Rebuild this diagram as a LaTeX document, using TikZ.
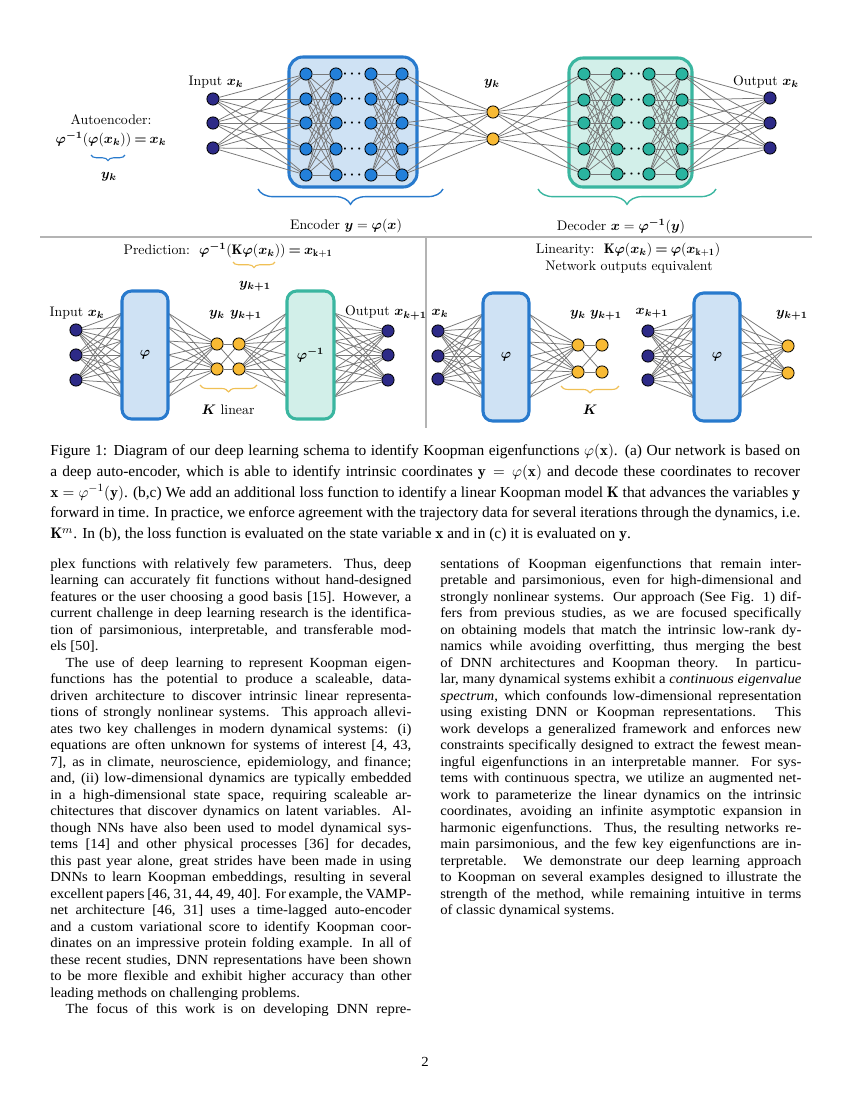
\documentclass[tikz,border=0pt]{standalone}
\usepackage{amsmath, amssymb, bm}
\usepackage{fontspec}
\newfontfamily\bodyfont[FakeStretch=1.06]{Liberation Serif}
\newfontfamily\capfont[FakeStretch=1.01]{Liberation Serif}
\usetikzlibrary{positioning, fit, decorations.pathreplacing}

\definecolor{inkblue}{RGB}{45,42,135}
\definecolor{encnode}{RGB}{35,128,218}
\definecolor{encline}{RGB}{40,122,205}
\definecolor{encfill}{RGB}{207,226,244}
\definecolor{decnode}{RGB}{42,180,160}
\definecolor{decline}{RGB}{58,182,160}
\definecolor{decfill}{RGB}{210,239,233}
\definecolor{latnode}{RGB}{248,186,52}
\definecolor{latbrace}{RGB}{240,192,85}
\definecolor{linkgray}{RGB}{120,120,120}
\definecolor{rulegray}{RGB}{180,180,180}

% one justified line of the page text
\newcommand{\bodyline}[1]{\makebox[260bp][s]{#1}}
\newcommand{\capline}[1]{\makebox[540bp][s]{#1}}

\begin{document}
\begin{tikzpicture}[
    x=0.72bp, y=-0.72bp,
    neuron/.style={circle, draw=black, line width=0.6bp, minimum size=8.8bp, inner sep=0pt},
    inneuron/.style={neuron, fill=inkblue},
    encneuron/.style={neuron, fill=encnode},
    decneuron/.style={neuron, fill=decnode},
    latneuron/.style={neuron, fill=latnode},
    link/.style={draw=linkgray, line width=0.55bp},
    encbox/.style={draw=encline, fill=encfill, line width=2.2bp, rounded corners=7bp, inner sep=0pt},
    decbox/.style={draw=decline, fill=decfill, line width=2.2bp, rounded corners=7bp, inner sep=0pt},
    curly/.style={decorate, decoration={brace, mirror, amplitude=#1}, line width=0.8bp},
    curly/.default=5bp,
    textcol/.style={anchor=north west, inner sep=0pt, align=left}
  ]

  \fill[white] (0,0) rectangle (850,1100);
  \useasboundingbox (0,0) rectangle (850,1100);

  % ==================== (a) AUTO-ENCODER ====================

  \node[encbox, rounded corners=10bp, fit={(289,57) (417,187)}] (encoder) {};
  \node[decbox, rounded corners=10bp, fit={(569,58) (692,187)}] (decoder) {};

  \foreach \j/\yy in {1/99, 2/123, 3/148}
    \node[inneuron] (ai\j) at (213,\yy) {};
  \foreach \c/\xx in {1/306, 2/336, 3/371, 4/402}
    \foreach \j/\yy in {1/74, 2/99, 3/123, 4/149, 5/175}
      \node[encneuron] (ae\c-\j) at (\xx,\yy) {};
  \foreach \j/\yy in {1/74, 2/99, 3/123, 4/149, 5/175}
    \node (aedots\j) at (353.5,\yy) {$\bm{\cdots}$};

  \foreach \j/\yy in {1/112, 2/139}
    \node[latneuron] (ay\j) at (493,\yy) {};

  \foreach \c/\xx in {1/584, 2/617, 3/649, 4/682}
    \foreach \j/\yy in {1/74, 2/100, 3/123, 4/149, 5/174}
      \node[decneuron] (ad\c-\j) at (\xx,\yy) {};
  \foreach \j/\yy in {1/74, 2/100, 3/123, 4/149, 5/174}
    \node (addots\j) at (633,\yy) {$\bm{\cdots}$};

  \foreach \j/\yy in {1/98, 2/123, 3/148}
    \node[inneuron] (ao\j) at (770,\yy) {};

  % fully connected layers
  \foreach \i in {1,2,3} \foreach \j in {1,...,5} \draw[link] (ai\i) -- (ae1-\j);
  \foreach \i in {1,...,5} \foreach \j in {1,...,5} \draw[link] (ae1-\i) -- (ae2-\j);
  \foreach \i in {1,...,5} \foreach \j in {1,...,5} \draw[link] (ae3-\i) -- (ae4-\j);
  \foreach \i in {1,...,5} \foreach \j in {1,2} \draw[link] (ae4-\i) -- (ay\j);
  \foreach \i in {1,2} \foreach \j in {1,...,5} \draw[link] (ay\i) -- (ad1-\j);
  \foreach \i in {1,...,5} \foreach \j in {1,...,5} \draw[link] (ad1-\i) -- (ad2-\j);
  \foreach \i in {1,...,5} \foreach \j in {1,...,5} \draw[link] (ad3-\i) -- (ad4-\j);
  \foreach \i in {1,...,5} \foreach \j in {1,2,3} \draw[link] (ad4-\i) -- (ao\j);

  \node (ainlbl) at (216,82) {Input $\bm{x_k}$};
  \node (aylbl) at (492,84) {$\bm{y_k}$};
  \node (aoutlbl) at (766,82) {Output $\bm{x_k}$};

  \node[align=center, inner sep=0pt] (autolbl) at (111,131) {Autoencoder:\\[2pt]
    $\bm{\varphi}^{\bm{-1}}(\bm{\varphi}(\bm{x_k})) \mathbin{\bm{=}} \bm{x_k}$};
  \coordinate (autobl) at (91,155);
  \coordinate (autobr) at (125,155);
  \draw[curly=4bp, encline] (autobl) -- (autobr);
  \node (autoy) at (109,177) {$\bm{y_k}$};

  \coordinate (encbl) at (258,189);
  \coordinate (encbr) at (443,189);
  \draw[curly=11bp, encline, line width=1bp] (encbl) -- (encbr);
  \coordinate (decbl) at (538,189);
  \coordinate (decbr) at (716,189);
  \draw[curly=11bp, decline, line width=1bp] (decbl) -- (decbr);

  \node (enclbl) at (346,226) {Encoder $\bm{y} = \bm{\varphi}(\bm{x})$};
  \node (declbl) at (621,226) {Decoder $\bm{x} = \bm{\varphi}^{\bm{-1}}(\bm{y})$};

  % panel rules
  \coordinate (ruleL) at (40,237);
  \coordinate (ruleR) at (812,237);
  \coordinate (ruleM) at (426,237);
  \coordinate (ruleB) at (426,428);
  \draw[rulegray, line width=0.8bp] (ruleL) -- (ruleR);
  \draw[rulegray, line width=0.8bp] (ruleM) -- (ruleB);

  % ==================== (b) PREDICTION ====================

  \node (predeq) at (228,250) {Prediction:\ \ $\bm{\varphi}^{\bm{-1}}(\mathbf{K}\bm{\varphi}(\bm{x_k})) \mathbin{\bm{=}} \bm{x}_{\mathbf{k+1}}$};
  \coordinate (predbl) at (233,262);
  \coordinate (predbr) at (275,262);
  \draw[curly=4bp, latbrace] (predbl) -- (predbr);
  \node (predy) at (255,286) {$\bm{y_{k+1}}$};

  \foreach \j/\yy in {1/330, 2/355, 3/380}
    \node[inneuron] (bi\j) at (76,\yy) {};
  \foreach \j [evaluate=\j as \yy using 299+14*\j] in {1,...,7} {
    \coordinate (bphiL\j) at (122,\yy);
    \coordinate (bphiR\j) at (168,\yy);
    \coordinate (binvL\j) at (287,\yy);
    \coordinate (binvR\j) at (334,\yy);
  }
  \foreach \j/\yy in {1/344, 2/369} {
    \node[latneuron] (byk\j) at (217,\yy) {};
    \node[latneuron] (byn\j) at (239,\yy) {};
  }
  \foreach \j/\yy in {1/331, 2/355, 3/380}
    \node[inneuron] (bo\j) at (388,\yy) {};

  \foreach \i in {1,2,3} \foreach \j in {1,...,7} \draw[link] (bi\i) -- (bphiL\j);
  \foreach \i in {1,...,7} \foreach \j in {1,2} \draw[link] (bphiR\i) -- (byk\j);
  \foreach \i in {1,2} \foreach \j in {1,2} \draw[link] (byk\i) -- (byn\j);
  \foreach \i in {1,2} \foreach \j in {1,...,7} \draw[link] (byn\i) -- (binvL\j);
  \foreach \i in {1,...,7} \foreach \j in {1,2,3} \draw[link] (binvR\i) -- (bo\j);

  \node[encbox, fit={(122,291) (168,419)}] (bphi) {};
  \node (bphilbl) at (bphi.center) {$\bm{\varphi}$};
  \node[decbox, fit={(287,291) (334,419)}] (binv) {};
  \node (binvlbl) at (binv.center) {$\bm{\varphi^{-1}}$};

  \node (binlbl) at (77,313) {Input $\bm{x_k}$};
  \node (byklbl) at (217,315) {$\bm{y_k}$};
  \node (bynlbl) at (246,315) {$\bm{y_{k+1}}$};
  \node (boutlbl) at (386,313) {Output $\bm{x_{k+1}}$};

  \coordinate (bkbl) at (200,385);
  \coordinate (bkbr) at (257,385);
  \draw[curly=5bp, latbrace] (bkbl) -- (bkbr);
  \node (bklbl) at (228,410) {$\bm{K}$ linear};

  % ==================== (c) LINEARITY ====================

  \node (lineq) at (628,250) {Linearity:\ \ $\mathbf{K}\bm{\varphi}(\bm{x_k}) \mathbin{\bm{=}} \bm{\varphi}(\bm{x}_{\mathbf{k+1}})$};
  \node (linsub) at (629,267) {Network outputs equivalent};

  \foreach \j/\yy in {1/331, 2/356, 3/379}
    \node[inneuron] (ci\j) at (438,\yy) {};
  \foreach \j/\yy in {1/331, 2/356, 3/380}
    \node[inneuron] (cx\j) at (648,\yy) {};
  \foreach \j [evaluate=\j as \yy using 300+14*\j] in {1,...,7} {
    \coordinate (cphiL\j) at (483,\yy);
    \coordinate (cphiR\j) at (529,\yy);
    \coordinate (cpsiL\j) at (694,\yy);
    \coordinate (cpsiR\j) at (740,\yy);
  }
  \foreach \j/\yy in {1/345, 2/372} {
    \node[latneuron] (cyk\j) at (578,\yy) {};
    \node[latneuron] (cyn\j) at (602,\yy) {};
  }
  \foreach \j/\yy in {1/346, 2/373}
    \node[latneuron] (cyo\j) at (788,\yy) {};

  \foreach \i in {1,2,3} \foreach \j in {1,...,7} \draw[link] (ci\i) -- (cphiL\j);
  \foreach \i in {1,...,7} \foreach \j in {1,2} \draw[link] (cphiR\i) -- (cyk\j);
  \foreach \i in {1,2} \foreach \j in {1,2} \draw[link] (cyk\i) -- (cyn\j);
  \foreach \i in {1,2,3} \foreach \j in {1,...,7} \draw[link] (cx\i) -- (cpsiL\j);
  \foreach \i in {1,...,7} \foreach \j in {1,2} \draw[link] (cpsiR\i) -- (cyo\j);

  \node[encbox, fit={(483,293) (529,421)}] (cphi) {};
  \node (cphilbl) at (cphi.center) {$\bm{\varphi}$};
  \node[encbox, fit={(694,293) (740,421)}] (cpsi) {};
  \node (cpsilbl) at (cpsi.center) {$\bm{\varphi}$};

  \node (cinlbl) at (440,313) {$\bm{x_k}$};
  \node (cyklbl) at (578,315) {$\bm{y_k}$};
  \node (cynlbl) at (606,315) {$\bm{y_{k+1}}$};
  \node (cxlbl) at (652,313) {$\bm{x_{k+1}}$};
  \node (cyolbl) at (792,315) {$\bm{y_{k+1}}$};

  \coordinate (ckbl) at (561,386);
  \coordinate (ckbr) at (619,386);
  \draw[curly=5bp, latbrace] (ckbl) -- (ckbr);
  \node (cklbl) at (590,410) {$\bm{K}$};

  % ==================== CAPTION AND PAGE TEXT ====================

  \node[textcol, font=\capfont\fontsize{11bp}{14.94bp}\selectfont] (caption) at (50,444) {%
    \capline{Figure 1: Diagram of our deep learning schema to identify Koopman eigenfunctions $\varphi(\mathbf{x})$. (a) Our network is based on}\\
    \capline{a deep auto-encoder, which is able to identify intrinsic coordinates $\mathbf{y} = \varphi(\mathbf{x})$ and decode these coordinates to recover}\\
    \capline{$\mathbf{x} = \varphi^{-1}(\mathbf{y})$. (b,c) We add an additional loss function to identify a linear Koopman model $\mathbf{K}$ that advances the variables $\mathbf{y}$}\\
    \capline{forward in time. In practice, we enforce agreement with the trajectory data for several iterations through the dynamics, i.e.}\\
    $\mathbf{K}^m$. In (b), the loss function is evaluated on the state variable $\mathbf{x}$ and in (c) it is evaluated on $\mathbf{y}$.
  };

  \node[textcol, font=\bodyfont\fontsize{10bp}{11.88bp}\selectfont] (leftcol) at (50,558) {%
    \bodyline{plex functions with relatively few parameters. Thus, deep}\\
    \bodyline{learning can accurately fit functions without hand-designed}\\
    \bodyline{features or the user choosing a good basis [15]. However, a}\\
    \bodyline{current challenge in deep learning research is the identifica-}\\
    \bodyline{tion of parsimonious, interpretable, and transferable mod-}\\
    els [50].\\
    \bodyline{\hspace*{11bp}The use of deep learning to represent Koopman eigen-}\\
    \bodyline{functions has the potential to produce a scaleable, data-}\\
    \bodyline{driven architecture to discover intrinsic linear representa-}\\
    \bodyline{tions of strongly nonlinear systems. This approach allevi-}\\
    \bodyline{ates two key challenges in modern dynamical systems: (i)}\\
    \bodyline{equations are often unknown for systems of interest [4, 43,}\\
    \bodyline{7], as in climate, neuroscience, epidemiology, and finance;}\\
    \bodyline{and, (ii) low-dimensional dynamics are typically embedded}\\
    \bodyline{in a high-dimensional state space, requiring scaleable ar-}\\
    \bodyline{chitectures that discover dynamics on latent variables. Al-}\\
    \bodyline{though NNs have also been used to model dynamical sys-}\\
    \bodyline{tems [14] and other physical processes [36] for decades,}\\
    \bodyline{this past year alone, great strides have been made in using}\\
    \bodyline{DNNs to learn Koopman embeddings, resulting in several}\\
    \bodyline{excellent papers [46, 31, 44, 49, 40]. For example, the VAMP-}\\
    \bodyline{net architecture [46, 31] uses a time-lagged auto-encoder}\\
    \bodyline{and a custom variational score to identify Koopman coor-}\\
    \bodyline{dinates on an impressive protein folding example. In all of}\\
    \bodyline{these recent studies, DNN representations have been shown}\\
    \bodyline{to be more flexible and exhibit higher accuracy than other}\\
    leading methods on challenging problems.\\
    \bodyline{\hspace*{11bp}The focus of this work is on developing DNN repre-}
  };

  \node[textcol, font=\bodyfont\fontsize{10bp}{11.88bp}\selectfont] (rightcol) at (440,558) {%
    \bodyline{sentations of Koopman eigenfunctions that remain inter-}\\
    \bodyline{pretable and parsimonious, even for high-dimensional and}\\
    \bodyline{strongly nonlinear systems. Our approach (See Fig. 1) dif-}\\
    \bodyline{fers from previous studies, as we are focused specifically}\\
    \bodyline{on obtaining models that match the intrinsic low-rank dy-}\\
    \bodyline{namics while avoiding overfitting, thus merging the best}\\
    \bodyline{of DNN architectures and Koopman theory. In particu-}\\
    \bodyline{lar, many dynamical systems exhibit a \textit{continuous eigenvalue}}\\
    \bodyline{\textit{spectrum}, which confounds low-dimensional representation}\\
    \bodyline{using existing DNN or Koopman representations. This}\\
    \bodyline{work develops a generalized framework and enforces new}\\
    \bodyline{constraints specifically designed to extract the fewest mean-}\\
    \bodyline{ingful eigenfunctions in an interpretable manner. For sys-}\\
    \bodyline{tems with continuous spectra, we utilize an augmented net-}\\
    \bodyline{work to parameterize the linear dynamics on the intrinsic}\\
    \bodyline{coordinates, avoiding an infinite asymptotic expansion in}\\
    \bodyline{harmonic eigenfunctions. Thus, the resulting networks re-}\\
    \bodyline{main parsimonious, and the few key eigenfunctions are in-}\\
    \bodyline{terpretable. We demonstrate our deep learning approach}\\
    \bodyline{to Koopman on several examples designed to illustrate the}\\
    \bodyline{strength of the method, while remaining intuitive in terms}\\
    of classic dynamical systems.
  };

  \node[font=\bodyfont\fontsize{10bp}{12bp}\selectfont] (pagenum) at (425,1062) {2};

\end{tikzpicture}
\end{document}
